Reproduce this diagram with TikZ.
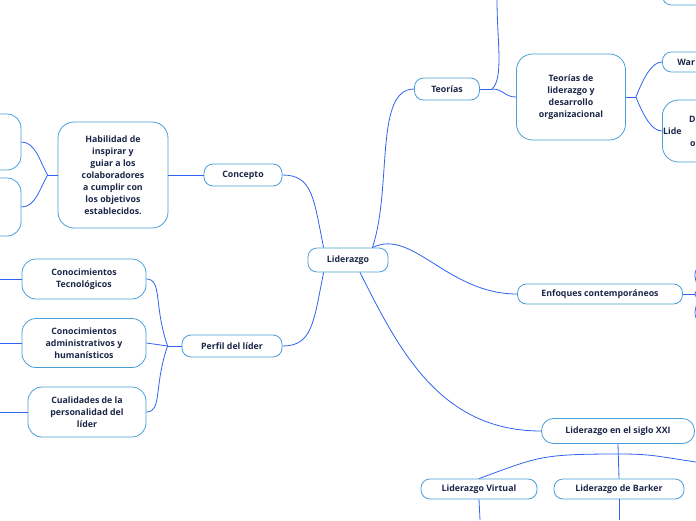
\documentclass[tikz,border=0pt]{standalone}
\usepackage{fontspec}
\setmainfont{Open Sans}
\usetikzlibrary{positioning}
\definecolor{boxline}{HTML}{4A9FD8}
\definecolor{wire}{HTML}{2F63F0}
\definecolor{ink}{HTML}{1C2748}
\tikzset{topic/.style={draw=boxline, line width=0.8pt, fill=white, rounded corners=9pt,
		align=center, text=ink, font=\fontsize{8.8}{12}\selectfont\bfseries, inner sep=2pt},
	wire/.style={draw=wire, line width=0.8pt}}
\begin{document}
\begin{tikzpicture}[x=1pt,y=-1pt]
	\useasboundingbox (0,0) rectangle (696,520);
	% central topic
	\node [topic, minimum width=80, minimum height=24] (lid) at (348,260) {Liderazgo};
	% right side
	\node [topic, minimum width=65, minimum height=22] (teo) at (447,89) {Teorías};
	\node [topic, minimum width=109, minimum height=86, rounded corners=16pt] (tdo) at (571,97) {Teorías de\\liderazgo y\\desarrollo\\organizacional};
	\node [topic, minimum width=90, minimum height=20, anchor=west, text width=80, align=left] (war) at (662,62) {\hspace{10pt}War};
	\node [topic, minimum width=90, minimum height=62, rounded corners=16pt, anchor=west] (dlo) at (662,131) {\phantom{D}};
	\node [text=ink, font=\fontsize{8.8}{12}\selectfont\bfseries, align=left, anchor=west, inner sep=0pt] (dlot) at (663,131) {\hspace{26pt}D\\Lide\\\hspace{27pt}o};
	\node [topic, minimum width=90, minimum height=30, anchor=west] (top) at (662,-10) {};
	\node [topic, minimum width=165, minimum height=20] (enf) at (600,294) {Enfoques contemporáneos};
	\node [topic, minimum width=153, minimum height=25, rounded corners=12pt] (xxi) at (618,431) {Liderazgo en el siglo XXI};
	\node [topic, minimum width=116, minimum height=20] (vir) at (479,489) {Liderazgo Virtual};
	\node [topic, minimum width=130, minimum height=20] (bar) at (619,489) {Liderazgo de Barker};
	% left side
	\node [topic, minimum width=78, minimum height=22] (con) at (243,175) {Concepto};
	\node [topic, minimum width=110, minimum height=106, rounded corners=16pt] (hab) at (113,175) {Habilidad de\\inspirar y\\guiar a los\\colaboradores\\a cumplir con\\los objetivos\\establecidos.};
	\node [topic, minimum width=60, minimum height=56, rounded corners=14pt] (l1) at (-9,142) {};
	\node [topic, minimum width=60, minimum height=58, rounded corners=14pt] (l2) at (-9,207) {};
	\node [topic, minimum width=100, minimum height=22] (per) at (232,346) {Perfil del líder};
	\node [topic, minimum width=124, minimum height=40, rounded corners=14pt] (tec) at (84,279) {Conocimientos\\Tecnológicos};
	\node [topic, minimum width=124, minimum height=49, rounded corners=14pt] (adm) at (84,343) {Conocimientos\\administrativos y\\humanísticos};
	\node [topic, minimum width=118, minimum height=50, rounded corners=14pt] (cua) at (87,412) {Cualidades de la\\personalidad del\\líder};
	\coordinate (e1) at (0,279);
	\coordinate (e2) at (0,343);
	\coordinate (e3) at (0,412);
	\coordinate (er) at (696,462);
	\coordinate (eu) at (696,270);
	\coordinate (ed) at (696,318);
	\coordinate (vb) at (480,520);
	\coordinate (bb) at (619,520);
	\coordinate (tt) at (497,0);
	% connectors
	\begin{scope}[wire]
		\draw (lid.north east) ++(-16,0) .. controls +(20,-60) and +(-40,0) .. (teo.west);
		\draw (lid.north east) ++(-16,0) .. controls +(40,-20) and +(-70,0) .. (enf.west);
		\draw (lid.south) ++(12,0) .. controls +(40,80) and +(-100,0) .. (xxi.west);
		\draw (lid.north west) ++(16,0) .. controls +(-10,-50) and +(30,0) .. (con.east);
		\draw (lid.south west) ++(16,0) .. controls +(-10,50) and +(30,0) .. (per.east);
		\draw (teo.east) -- ++(12,0) coordinate (tb);
		\draw (tb) .. controls +(12,0) and +(-12,0) .. (tdo.west);
		\draw (tb) .. controls +(12,-10) and +(0,40) .. (tt);
		\draw (tdo.east) -- ++(10,0) coordinate (db);
		\draw (db) .. controls +(8,-20) and +(-10,0) .. (war.west);
		\draw (db) .. controls +(8,20) and +(-10,0) .. (dlo.west);
		\draw (enf.east) -- ++(12,0) coordinate (fb);
		\draw (fb) .. controls +(6,-10) and +(-4,10) .. (eu);
		\draw (fb) .. controls +(6,10) and +(-4,-10) .. (ed);
		\draw (xxi.south) -- (bar.north);
		\draw (vir.north) .. controls +(60,-22) and +(-80,0) .. (620,454) .. controls +(30,0) and +(-40,-6) .. (er);
		\draw (vir.south) -- (vb);
		\draw (bar.south) -- (bb);
		\draw (con.west) -- (hab.east);
		\draw (hab.west) -- ++(-10,0) coordinate (hb);
		\draw (hb) .. controls +(-8,-14) and +(14,0) .. (l1.east);
		\draw (hb) .. controls +(-8,14) and +(14,0) .. (l2.east);
		\draw (per.west) -- ++(-14,0) coordinate (pb);
		\draw (pb) .. controls +(-14,-40) and +(16,0) .. (tec.east);
		\draw (pb) -- (adm.east);
		\draw (pb) .. controls +(-14,40) and +(16,0) .. (cua.east);
		\draw (tec.west) -- (e1);
		\draw (adm.west) -- (e2);
		\draw (cua.west) -- (e3);
	\end{scope}
\end{tikzpicture}
\end{document}
